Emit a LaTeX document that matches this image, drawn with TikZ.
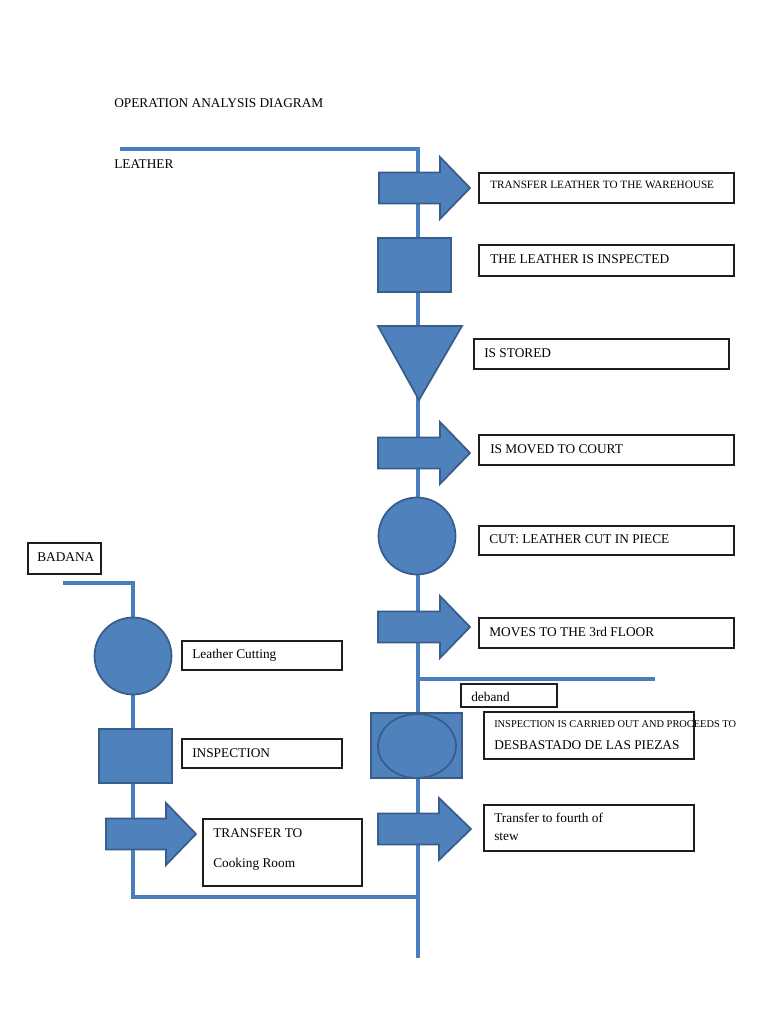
\documentclass[tikz,border=0pt]{standalone}
\usepackage{fontspec}
\setmainfont{Liberation Serif}
\usetikzlibrary{shapes.geometric}
\definecolor{opfill}{RGB}{79,129,189}
\definecolor{opedge}{RGB}{56,93,138}
\definecolor{flowc}{RGB}{74,126,187}
\definecolor{boxedge}{RGB}{30,30,30}
\tikzset{
  flow/.style={draw=flowc, line width=2.5pt, line join=miter},
  opshape/.style={fill=opfill, draw=opedge, line width=1.3pt, line join=miter},
  tbox/.style={draw=boxedge, line width=1pt, rectangle, inner sep=0pt, fill=white},
  txt/.style={anchor=base west, inner sep=0pt, font=\fontsize{10}{12}\selectfont},
  smalltxt/.style={anchor=base west, inner sep=0pt, font=\fontsize{8.4}{10}\selectfont},
  tinytxt/.style={anchor=base west, inner sep=0pt, font=\fontsize{7.8}{9}\selectfont},
}
% text box: name, x1, y1, x2, y2
\newcommand\tbox[5]{\node[tbox, minimum width={(#4-#2)*0.75pt}, minimum height={(#5-#3)*0.75pt}] (#1) at ({(#2+#4)/2},{(#3+#5)/2}) {};}
% process arrow: name, x1, xh, tip, yc
\newcommand\procarrow[5]{%
  \filldraw[opshape] (#2,#5-15.5) -- (#3,#5-15.5) -- (#3,#5-31) -- (#4,#5) -- (#3,#5+31) -- (#3,#5+15.5) -- (#2,#5+15.5) -- cycle;
  \coordinate (#1) at ({(#2+#4)/2},#5);}
\begin{document}
\begin{tikzpicture}[x=0.75pt, y=-0.75pt]
\useasboundingbox[fill=white] (0,0) rectangle (768,1024);

% title and start label
\node[txt] (title) at (114,108) {OPERATION ANALYSIS DIAGRAM};
\node[txt] (leather) at (114,168) {LEATHER};

% flow lines
\coordinate (topstart) at (120,149);
\coordinate (topcorner) at (418,149);
\coordinate (mainend) at (418,958);
\draw[flow] (topstart) -- (topcorner) -- (mainend);
\coordinate (debj) at (418,679);
\coordinate (debend) at (655,679);
\draw[flow] (debj) -- (debend);
\coordinate (bstart) at (63,583);
\coordinate (bcorner) at (133,583);
\coordinate (bbottom) at (133,897);
\coordinate (bjoin) at (418,897);
\draw[flow] (bstart) -- (bcorner) -- (bbottom) -- (bjoin);

% main column symbols
\procarrow{a1}{379}{440}{470}{188}
\filldraw[opshape] (378,238) rectangle (451,292);
\coordinate (sq1) at (414,265);
\filldraw[opshape] (378,326) -- (462,326) -- (419,400) -- cycle;
\coordinate (tri) at (419,350);
\procarrow{a2}{378}{440}{470}{453}
\filldraw[opshape] (417,536) circle [radius=38.5];
\coordinate (c1) at (417,536);
\procarrow{a3}{378}{440}{470}{627}
\filldraw[opshape] (371,713) rectangle (462,778);
\draw[opedge, line width=1.3pt] (417,746) ellipse [x radius=39, y radius=32];
\coordinate (combo) at (417,746);
\procarrow{a4}{378}{439}{471}{829}

% left column symbols
\filldraw[opshape] (133,656) circle [radius=38.5];
\coordinate (c2) at (133,656);
\filldraw[opshape] (99,729) rectangle (172,783);
\coordinate (sq2) at (135,756);
\procarrow{a5}{106}{166}{196}{834}

% text boxes, right column
\tbox{b1}{479}{173}{734}{203}
\node[smalltxt] (t1) at (490,188) {TRANSFER LEATHER TO THE WAREHOUSE};
\tbox{b2}{479}{245}{734}{276}
\node[txt] (t2) at (490,263) {THE LEATHER IS INSPECTED};
\tbox{b3}{474}{339}{729}{369}
\node[txt] (t3) at (484,357) {IS STORED};
\tbox{b4}{479}{435}{734}{465}
\node[txt] (t4) at (490,453) {IS MOVED TO COURT};
\tbox{b5}{479}{526}{734}{555}
\node[txt] (t5) at (489,543) {CUT: LEATHER CUT IN PIECE};
\tbox{b6}{479}{618}{734}{648}
\node[txt] (t6) at (489,636) {MOVES TO THE 3rd FLOOR};
\tbox{bdeb}{461}{684}{557}{707}
\node[txt] (tdeb) at (471,701) {deband};
\tbox{b7}{484}{712}{694}{759}
\node[tinytxt] (t7a) at (494,727) {INSPECTION IS CARRIED OUT AND PROCEEDS TO};
\node[txt] (t7b) at (494,749) {DESBASTADO DE LAS PIEZAS};
\tbox{b8}{484}{805}{694}{851}
\node[txt] (t8a) at (494,822) {Transfer to fourth of};
\node[txt] (t8b) at (494,840) {stew};

% text boxes, left column
\tbox{bbad}{28}{543}{101}{574}
\node[txt] (tbad) at (37,561) {BADANA};
\tbox{bl1}{182}{641}{342}{670}
\node[txt] (tl1) at (192,658) {Leather Cutting};
\tbox{bl2}{182}{739}{342}{768}
\node[txt] (tl2) at (192,757) {INSPECTION};
\tbox{bl3}{203}{819}{362}{886}
\node[txt] (tl3a) at (213,837) {TRANSFER TO};
\node[txt] (tl3b) at (213,867) {Cooking Room};
\end{tikzpicture}
\end{document}
